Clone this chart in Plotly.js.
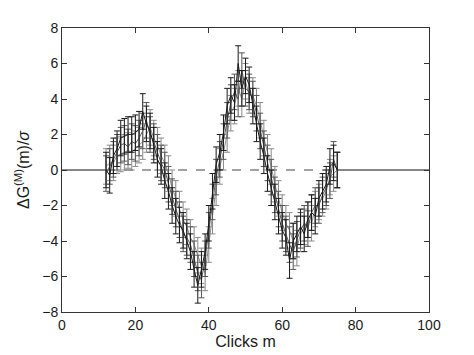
<!DOCTYPE html>
<html><head><meta charset="utf-8">
<script src="https://cdn.plot.ly/plotly-3.0.1.min.js"></script>
<style>body{margin:0;background:#fff}#plot{width:474px;height:355px}</style>
</head><body><div id="plot"></div>
<script>
const clicks = [12,13,14,15,16,17,18,19,20,21,22,23,24,25,26,27,28,29,30,31,32,33,34,35,36,37,38,39,40,41,42,43,44,45,46,47,48,49,50,51,52,53,54,55,56,57,58,59,60,61,62,63,64,65,66,67,68,69,70,71,72,73,74,75];
const seriesA = [0.0,-0.3,0.8,1.2,1.8,1.9,2.0,2.0,2.1,2.3,3.3,2.6,2.2,1.4,0.6,0.2,-0.6,-1.2,-2.0,-2.6,-3.1,-3.4,-4.0,-4.6,-5.6,-6.5,-5.6,-4.6,-3.0,-1.2,0.3,1.0,2.1,3.6,4.2,3.8,6.0,4.6,5.3,4.8,3.6,2.6,1.6,0.8,-0.2,-1.0,-1.8,-2.6,-3.4,-3.8,-5.1,-4.0,-3.6,-3.2,-3.6,-2.8,-2.4,-2.6,-1.6,-1.2,-0.8,0.2,0.4,0.0];
const seriesB = [-0.2,0.2,0.6,1.0,1.4,1.5,1.3,1.6,1.5,1.8,2.2,2.8,2.0,1.6,1.0,0.4,0.0,-0.8,-1.5,-2.2,-2.8,-3.6,-3.8,-4.2,-5.0,-5.8,-6.2,-5.0,-3.4,-1.8,-0.4,0.6,1.6,2.8,3.8,4.4,4.0,5.6,4.6,4.4,4.0,3.2,2.2,1.2,0.4,-0.4,-1.4,-2.2,-3.0,-3.6,-4.2,-4.6,-3.9,-3.4,-3.0,-3.3,-2.4,-2.0,-2.0,-1.4,-1.0,-0.6,0.6,0.0];
const seriesC = [0.2,0.4,0.4,0.8,0.9,1.0,1.1,1.0,1.2,1.4,1.6,2.0,2.4,1.8,1.4,0.8,0.4,-0.2,-1.0,-1.6,-2.2,-2.8,-3.2,-3.8,-4.2,-4.8,-5.4,-5.8,-4.2,-2.6,-1.0,0.2,1.0,2.0,3.2,3.6,4.6,4.0,5.0,4.2,4.2,3.6,2.8,1.8,1.0,0.2,-0.8,-1.6,-2.4,-3.0,-3.4,-4.0,-4.4,-3.6,-3.2,-2.8,-3.0,-2.2,-1.8,-1.6,-1.2,-0.4,-0.2,0.0];
const errA = 1.0, errB = 1.0, errC = 1.0;
const zeroLeftX = [0,12], zeroRightX = [75,100], zeroMidX = [12,75];
const xTicks = [0,20,40,60,80,100];
const yTicks = [-8,-6,-4,-2,0,2,4,6,8];

function series(y, err, color){
  return {x: clicks, y: y, type:'scatter', mode:'lines', line:{color:color, width:1},
    error_y:{type:'constant', value:err, color:color, thickness:1, width:3}, hoverinfo:'none'};
}
const traces = [
  {x: zeroMidX, y:[0,0], mode:'lines', line:{color:'#444', width:1.2, dash:'dash'}},
  {x: zeroLeftX, y:[0,0], mode:'lines', line:{color:'#111', width:1}},
  {x: zeroRightX, y:[0,0], mode:'lines', line:{color:'#111', width:1}},
  series(seriesC, errC, '#8a8a8a'),
  series(seriesB, errB, '#555'),
  series(seriesA, errA, '#1a1a1a')
];
const font = {family:'Liberation Sans, Arial, sans-serif', size:14, color:'#1a1a1a'};
const layout = {
  width:474, height:355, showlegend:false, paper_bgcolor:'#fff', plot_bgcolor:'#fff',
  margin:{l:62, r:45, t:28, b:43}, font: font,
  xaxis:{range:[0,100], tickvals:xTicks, ticks:'inside', ticklen:5, tickcolor:'#333',
    showline:true, linecolor:'#333', linewidth:1, mirror:'ticks', showgrid:false, zeroline:false,
    title:{text:'Clicks m', font:{size:16}, standoff:3}},
  yaxis:{range:[-8,8], tickvals:yTicks, ticks:'inside', ticklen:5, tickcolor:'#333',
    showline:true, linecolor:'#333', linewidth:1, mirror:'ticks', showgrid:false, zeroline:false,
    title:{text:'ΔG<sup>(M)</sup>(m)/<i>σ</i>', font:{size:16}, standoff:8}}
};
Plotly.newPlot('plot', traces, layout, {staticPlot:true});
</script></body></html>
